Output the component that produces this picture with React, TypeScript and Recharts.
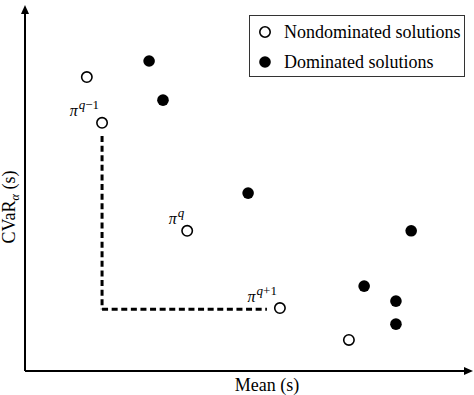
import { Legend, ReferenceLine, Scatter, ScatterChart, XAxis, YAxis, LabelList } from "recharts";

const nondominatedMean = [13.8, 17.2, 36.2, 56.9, 72.3];
const nondominatedCvar = [80.3, 67.8, 38.3, 17.2, 8.5];
const nondominatedLabels = ["", "\u22121", "q", "+1", ""];

const dominatedMean = [27.7, 30.8, 49.8, 86.2, 75.7, 82.8, 82.8];
const dominatedCvar = [84.7, 74.0, 48.6, 38.3, 23.2, 19.1, 12.8];

// step from pi^{q-1} down then across to pi^{q+1}
const stepX = [17.2, 17.2, 54.0];
const stepY = [64.2, 16.9, 16.9];

const SERIES = [
  { name: "Nondominated solutions", filled: false },
  { name: "Dominated solutions", filled: true },
];

const FONT = "'Liberation Serif', 'Times New Roman', serif";

const nondominated = nondominatedMean.map((x, i) => ({
  x,
  y: nondominatedCvar[i],
  label: nondominatedLabels[i],
}));
const dominated = dominatedMean.map((x, i) => ({ x, y: dominatedCvar[i] }));

function OpenDot(props: any) {
  return <circle cx={props.cx} cy={props.cy} r={5.2} fill="#fff" stroke="#000" strokeWidth={1.6} />;
}

function FilledDot(props: any) {
  return <circle cx={props.cx} cy={props.cy} r={5.8} fill="#000" />;
}

function ArrowLine(props: any) {
  const { x1, y1, x2, y2 } = props;
  const len = Math.hypot(x2 - x1, y2 - y1) || 1;
  const ux = (x2 - x1) / len;
  const uy = (y2 - y1) / len;
  const bx = x2 - ux * 9;
  const by = y2 - uy * 9;
  return (
    <g>
      <line x1={x1} y1={y1} x2={bx} y2={by} stroke="#000" strokeWidth={2} />
      <polygon
        points={`${x2},${y2} ${bx - uy * 4},${by + ux * 4} ${bx + uy * 4},${by - ux * 4}`}
        fill="#000"
      />
    </g>
  );
}

// label text: "q" alone, or the part that follows "q" in the exponent
function PiLabel(props: any) {
  const { x, y, width, value } = props;
  if (!value) return null;
  const cx = x + (width ?? 0) / 2;
  const rest = value === "q" ? "" : value;
  return (
    <text x={cx - 3} y={y - 2} textAnchor="end" fontFamily={FONT} fill="#000">
      <tspan fontSize={16} fontStyle="italic">{"\u03c0"}</tspan>
      <tspan fontSize={13} fontStyle="italic" dy={-7} dx={1}>q</tspan>
      {rest ? <tspan fontSize={13}>{rest}</tspan> : null}
    </text>
  );
}

function LegendBox() {
  return (
    <div
      style={{
        border: "1px solid #333",
        width: 216,
        height: 62,
        boxSizing: "border-box",
        fontFamily: FONT,
        fontSize: 18,
        color: "#000",
        background: "#fff",
      }}
    >
      {SERIES.map((s, i) => (
        <div key={s.name} style={{ display: "flex", alignItems: "center", height: 30, marginTop: i === 0 ? 1 : 0 }}>
          <svg width={34} height={30}>
            {s.filled ? (
              <circle cx={15} cy={15} r={5.8} fill="#000" />
            ) : (
              <circle cx={15} cy={15} r={5.2} fill="#fff" stroke="#000" strokeWidth={1.6} />
            )}
          </svg>
          <span>{s.name}</span>
        </div>
      ))}
    </div>
  );
}

export default function App() {
  return (
    <div style={{ position: "absolute", left: 0, top: 0, background: "#fff" }}>
      <ScatterChart width={474} height={395} margin={{ top: 5, right: 1, bottom: 0, left: 0 }}>
        <XAxis
          type="number"
          dataKey="x"
          domain={[0, 100]}
          axisLine={false}
          tick={false}
          tickLine={false}
          height={24}
          label={(p: any) => (
            <text
              x={p.viewBox.x + p.viewBox.width / 2 + 18}
              y={p.viewBox.y + 20}
              textAnchor="middle"
              fontFamily={FONT}
              fontSize={18}
              fill="#000"
            >
              Mean (s)
            </text>
          )}
        />
        <YAxis
          type="number"
          dataKey="y"
          domain={[0, 100]}
          axisLine={false}
          tick={false}
          tickLine={false}
          width={25}
          label={(p: any) => {
            const cx = 15;
            const cy = p.viewBox.y + p.viewBox.height / 2 + 19;
            return (
              <text
                x={cx}
                y={cy}
                transform={`rotate(-90 ${cx} ${cy})`}
                textAnchor="middle"
                fontFamily={FONT}
                fontSize={18}
                fill="#000"
              >
                CVaR
                <tspan fontSize={12} fontStyle="italic" dy={4}>{"\u03b1"}</tspan>
                <tspan dy={-4}> (s)</tspan>
              </text>
            );
          }}
        />
        <ReferenceLine segment={[{ x: 0, y: 0 }, { x: 100, y: 0 }]} shape={ArrowLine} ifOverflow="visible" />
        <ReferenceLine segment={[{ x: 0, y: 0 }, { x: 0, y: 100 }]} shape={ArrowLine} ifOverflow="visible" />
        <ReferenceLine
          segment={[{ x: stepX[0], y: stepY[0] }, { x: stepX[1], y: stepY[1] }]}
          stroke="#000"
          strokeWidth={3}
          strokeDasharray="6 3.6"
        />
        <ReferenceLine
          segment={[{ x: stepX[1], y: stepY[1] }, { x: stepX[2], y: stepY[2] }]}
          stroke="#000"
          strokeWidth={3}
          strokeDasharray="6 3.6"
        />
        <Scatter
          name={SERIES[0].name}
          data={nondominated}
          shape={OpenDot}
          isAnimationActive={false}
        >
          <LabelList dataKey="label" content={PiLabel} />
        </Scatter>
        <Scatter name={SERIES[1].name} data={dominated} shape={FilledDot} isAnimationActive={false} />
        <Legend
          layout="vertical"
          align="center"
          verticalAlign="middle"
          content={() => <LegendBox />}
          wrapperStyle={{ position: "absolute", left: 249, top: 15, width: 217, height: 63 }}
        />
      </ScatterChart>
    </div>
  );
}
